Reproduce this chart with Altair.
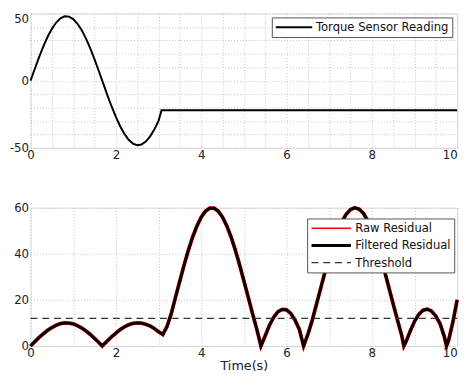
import altair as alt
import pandas as pd

# ---- Top panel: torque sensor reading ----
t_top = [0.0, 0.1, 0.2, 0.3, 0.4, 0.5, 0.6, 0.7, 0.8, 0.9, 1.0, 1.1, 1.2, 1.3, 1.4, 1.5,
         1.6, 1.7, 1.8, 1.9, 2.0, 2.1, 2.2, 2.3, 2.4, 2.5, 2.6, 2.7, 2.8, 2.9, 3.0, 3.07, 10.0]
torque = [0.0, 8.9, 17.5, 25.5, 32.7, 38.6, 43.3, 46.4, 47.9, 47.7, 45.9, 42.4, 37.5, 31.3, 24.0, 15.9,
          7.2, -1.8, -10.7, -19.2, -27.0, -33.9, -39.6, -44.0, -46.8, -48.0, -47.5, -45.3, -41.6, -36.4, -29.9, -22.0, -22.0]

# ---- Bottom panel: residuals ----
t_res = [0.0, 0.1, 0.2, 0.3, 0.4, 0.5, 0.6, 0.7, 0.8, 0.9, 1.0, 1.1, 1.2, 1.3, 1.4, 1.5, 1.6, 1.68,
         1.7, 1.8, 1.9, 2.0, 2.1, 2.2, 2.3, 2.4, 2.5, 2.6, 2.7, 2.8, 2.9, 3.0, 3.1, 3.2, 3.3, 3.4,
         3.5, 3.6, 3.7, 3.8, 3.9, 4.0, 4.1, 4.2, 4.3, 4.4, 4.5, 4.6, 4.7, 4.8, 4.9, 5.0, 5.1, 5.2,
         5.3, 5.4, 5.5, 5.6, 5.7, 5.8, 5.9, 6.0, 6.1, 6.2, 6.3, 6.4, 6.5, 6.6, 6.7, 6.8, 6.9, 7.0,
         7.1, 7.2, 7.3, 7.4, 7.5, 7.6, 7.7, 7.8, 7.9, 8.0, 8.1, 8.2, 8.3, 8.4, 8.5, 8.6, 8.7, 8.75,
         8.8, 8.9, 9.0, 9.1, 9.2, 9.3, 9.4, 9.5, 9.6, 9.7, 9.75, 9.8, 9.9, 10.0]
raw_res = [0.0, 1.9, 3.7, 5.3, 6.8, 8.0, 9.0, 9.7, 10.0, 9.9, 9.6, 8.8, 7.8, 6.5, 5.0, 3.3, 1.5, 0.0,
           0.4, 2.2, 4.0, 5.6, 7.1, 8.3, 9.2, 9.8, 10.0, 9.9, 9.4, 8.7, 7.6, 6.2, 5.0, 8.5, 14.2, 21.3,
           28.3, 35.2, 41.6, 47.3, 52.1, 55.9, 58.5, 59.8, 59.8, 58.5, 55.9, 52.1, 47.3, 41.6, 35.2, 28.3, 21.3, 14.2,
           7.5, 0.0, 4.4, 9.0, 12.5, 14.9, 15.9, 15.7, 14.1, 11.2, 7.2, 0.0, 5.0, 11.0, 18.0, 25.0, 32.0, 38.5,
           44.5, 49.8, 54.0, 57.2, 59.2, 60.0, 59.4, 57.6, 54.5, 50.2, 45.0, 38.9, 32.3, 25.3, 18.2, 11.3, 4.6, 0.0,
           1.8, 6.5, 10.7, 13.7, 15.5, 16.0, 15.1, 13.0, 9.6, 4.0, 0.0, 2.5, 10.5, 20.0]
filt_res = list(raw_res)
thr_t = [0.0, 10.0]
thr_v = [12.0, 12.0]

series_names = ["Raw Residual", "Filtered Residual", "Threshold"]

top_df = pd.DataFrame({"t": t_top, "v": torque, "s": "Torque Sensor Reading"})
raw_df = pd.DataFrame({"t": t_res, "v": raw_res, "s": "Raw Residual"})
filt_df = pd.DataFrame({"t": t_res, "v": filt_res, "s": "Filtered Residual"})
thr_df = pd.DataFrame({"t": thr_t, "v": thr_v, "s": "Threshold"})

W = 435
H_TOP = 137
H_BOT = 141
grid_x = [i * 0.5 for i in range(21)]
label_even = "datum.value % 2 == 0 ? toString(datum.value) : ''"

FONT = "DejaVu Sans"
GRID = "#c4c4c4"

def xaxis(title=None):
    kw = dict(values=grid_x, labelExpr=label_even, grid=True, gridDash=[1, 2],
              gridColor=GRID, ticks=False, domain=False, labelFontSize=12,
              labelColor="#222", labelPadding=2, labelFont=FONT,
              labelAlign={"condition": {"test": "datum.value == 10", "value": "right"},
                          "value": "center"})
    if title:
        kw.update(title=title, titleFontSize=13, titleFont=FONT, titleFontWeight="normal",
                  titleColor="#222", titlePadding=1)
    else:
        kw.update(title=None)
    return alt.Axis(**kw)

top = alt.Chart(top_df).mark_line(strokeWidth=2).encode(
    x=alt.X("t:Q", scale=alt.Scale(domain=[0, 10], nice=False), axis=xaxis()),
    y=alt.Y("v:Q", scale=alt.Scale(domain=[-50, 50], nice=False),
            axis=alt.Axis(values=list(range(-50, 51, 10)),
                          labelExpr="datum.value % 50 == 0 ? toString(datum.value) : ''",
                          labelBaseline={"condition": {"test": "datum.value == 50", "value": "top"},
                                         "value": "middle"},
                          grid=True, gridDash=[1, 2], gridColor=GRID, ticks=False,
                          domain=False, title=None, labelFontSize=12, labelColor="#222",
                          labelPadding=2, labelFont=FONT)),
    color=alt.Color("s:N", scale=alt.Scale(domain=["Torque Sensor Reading"], range=["black"]),
                    legend=alt.Legend(title=None, orient="none", legendX=246, legendY=4,
                                      symbolType="M-1,0H5.2", symbolSize=144, symbolStrokeWidth=2,
                                      labelFontSize=11.8, labelFont=FONT, labelColor="#111",
                                      strokeColor="#555", fillColor="white", padding=3,
                                      labelOffset=28)),
).properties(width=W, height=H_TOP)

color_scale = alt.Scale(domain=series_names, range=["#ff0000", "#000000", "#333333"])
dash_scale = alt.Scale(domain=series_names, range=[[1, 0], [1, 0], [7, 5]])
width_scale = alt.Scale(type="ordinal", domain=series_names, range=[1.5, 3, 1.3])

leg = alt.Legend(title=None, orient="none", legendX=282, legendY=11, symbolType="M-1,0H5.7",
                 symbolSize=144, labelFontSize=11.8, labelFont=FONT, labelColor="#111",
                 strokeColor="#555", fillColor="white", padding=3, rowPadding=3, labelOffset=31)

def enc(base):
    return base.encode(
        x=alt.X("t:Q", scale=alt.Scale(domain=[0, 10], nice=False), axis=xaxis("Time(s)")),
        y=alt.Y("v:Q", scale=alt.Scale(domain=[0, 60], nice=False),
                axis=alt.Axis(values=list(range(0, 61, 5)),
                              labelExpr="datum.value % 20 == 0 ? toString(datum.value) : ''",
                              grid=True, gridDash=[1, 2], gridColor=GRID, ticks=False,
                              domain=False, title=None, labelFontSize=12, labelColor="#222",
                              labelPadding=2, labelFont=FONT)),
        color=alt.Color("s:N", scale=color_scale, legend=leg, sort=series_names),
        strokeDash=alt.StrokeDash("s:N", scale=dash_scale, legend=leg, sort=series_names),
        strokeWidth=alt.StrokeWidth("s:N", scale=width_scale, legend=leg, sort=series_names),
    )

raw_under = alt.Chart(raw_df).mark_line(strokeWidth=3.8, color="#ff0000").encode(
    x="t:Q", y="v:Q")
raw_l = enc(alt.Chart(raw_df).mark_line())
filt_l = enc(alt.Chart(filt_df).mark_line())
thr_l = enc(alt.Chart(thr_df).mark_line())

bottom = alt.layer(raw_under, raw_l, filt_l, thr_l).properties(width=W, height=H_BOT)

chart = alt.vconcat(top, bottom, spacing=38).resolve_scale(
    color="independent", strokeDash="independent", strokeWidth="independent"
).resolve_legend(
    color="independent", strokeDash="independent", strokeWidth="independent"
).configure_view(
    stroke="black", strokeWidth=1
).configure(padding=0)

chart.save("out.html", embed_options={"renderer": "svg", "actions": False})
